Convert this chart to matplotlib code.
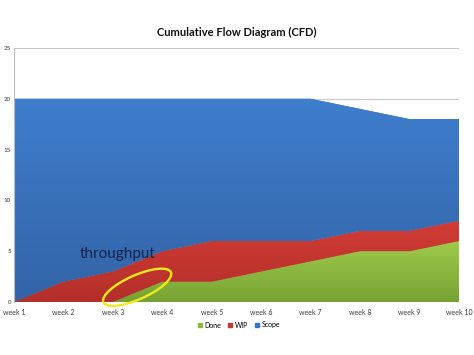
import numpy as np
import matplotlib.pyplot as plt
from matplotlib.patches import Ellipse, Patch
from matplotlib.transforms import ScaledTranslation
from matplotlib.colors import LinearSegmentedColormap

weeks = ["week 1", "week 2", "week 3", "week 4", "week 5",
         "week 6", "week 7", "week 8", "week 9", "week 10"]
done = [0, 0, 0, 2, 2, 3, 4, 5, 5, 6]
wip = [0, 2, 3, 3, 4, 3, 2, 2, 2, 2]
scope = [20, 18, 17, 15, 14, 14, 14, 12, 11, 10]

col_done = "#8cb940"
col_wip = "#c83832"
col_scope = "#3a74c2"
# (bottom, top) for the gradient fill
grads = [("#76a233", "#9fcb4c"), ("#b42f2a", "#d23c35"), ("#3363a6", "#3e7ecd")]

plt.rcParams['font.family'] = ['Lato', 'DejaVu Sans']

fig = plt.figure(figsize=(4.74, 3.55), dpi=100)
ax = fig.add_axes([14/474, 1-302/355, 445/474, 254/355])

x = list(range(len(weeks)))
polys = ax.stackplot(x, done, wip, scope, colors=[col_done, col_wip, col_scope],
                     linewidth=0, zorder=2)

ax.set_xlim(0, len(weeks)-1)
ax.set_ylim(0, 25)

# vertical gradient inside each band
grad = np.linspace(0, 1, 256).reshape(-1, 1)
for poly, (c0, c1) in zip(polys, grads):
    cmap = LinearSegmentedColormap.from_list("g", [c0, c1])
    top = max(poly.get_paths()[0].vertices[:, 1])
    im = ax.imshow(grad, cmap=cmap, origin="lower", aspect="auto",
                   extent=[0, len(weeks)-1, 0, max(top, 0.1)], zorder=2.5)
    im.set_clip_path(poly.get_paths()[0], transform=ax.transData)

ax.set_xlim(0, len(weeks)-1)
ax.set_ylim(0, 25)
ax.set_yticks([0, 5, 10, 15, 20, 25])
ax.set_xticks(x)
ax.set_xticklabels(weeks)
ax.tick_params(axis='both', length=0, labelsize=5, colors="#404040", pad=5)
ax.tick_params(axis='y', pad=2, labelsize=4.5)
ax.grid(axis='y', color="#c8c8c8", lw=0.8, zorder=0)
ax.set_axisbelow(True)
for s in ["top", "right", "bottom"]:
    ax.spines[s].set_visible(False)
ax.spines["left"].set_color("#bbbbbb")
ax.spines["left"].set_linewidth(0.8)

fig.text(0.5, 1-32/355, "Cumulative Flow Diagram (CFD)", ha="center", va="center",
         fontsize=8, fontweight="bold", color="#111111")

# annotation
ax.text(1.33, 4.3, "throughput", fontsize=11, color="#14234a", zorder=5)
trans = fig.dpi_scale_trans + ScaledTranslation(2.49, 1.45, ax.transData)
ax.add_patch(Ellipse((0, 0), 0.74, 0.24, angle=24, transform=trans,
                     fill=False, edgecolor="#f2ea1c", lw=1.7, zorder=6, clip_on=False))

handles = [Patch(color=col_done), Patch(color=col_wip), Patch(color=col_scope)]
fig.legend(handles, ["Done", "WIP", "Scope"], loc="center",
           bbox_to_anchor=(239/474, 1-325/355), ncol=3, frameon=False,
           fontsize=5, handlelength=0.6, handleheight=0.6, handletextpad=0.4,
           columnspacing=0.9)

fig.savefig("out.png", dpi=100)
